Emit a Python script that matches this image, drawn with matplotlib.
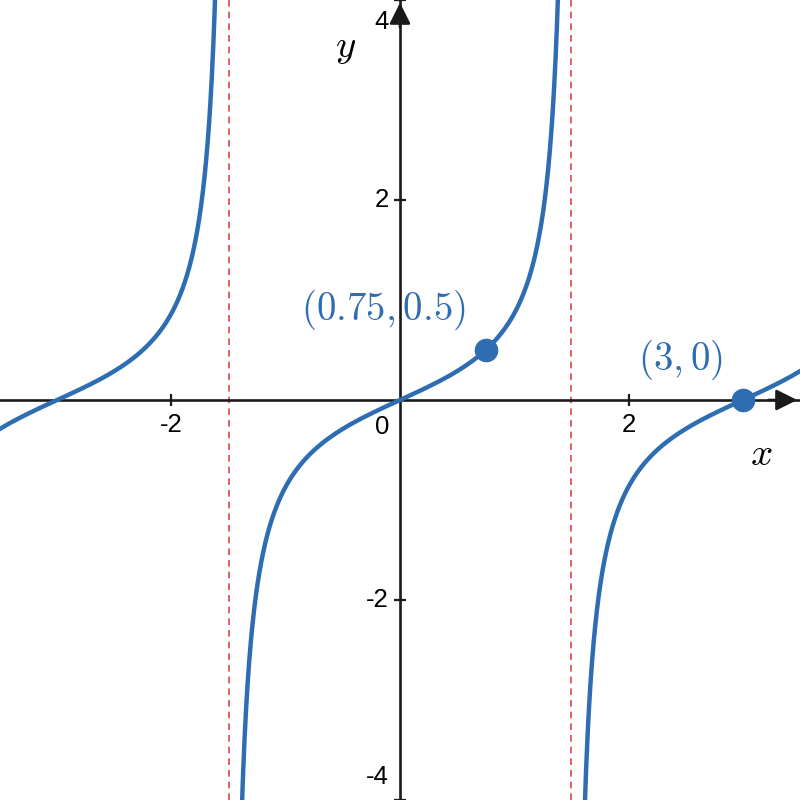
import numpy as np
import matplotlib
matplotlib.use("Agg")
import matplotlib.pyplot as plt

plt.rcParams['font.family'] = ['Liberation Sans', 'DejaVu Sans']
plt.rcParams['mathtext.fontset'] = 'cm'

# --- data ---
amplitude = 0.5          # y = 0.5 * tan(pi * x / 3)
period = 3.0
asymptotes = [-1.5, 1.5]
point_x = [0.75, 3]
point_y = [0.5, 0]
point_labels = [r'$(0.75, 0.5)$', r'$(3, 0)$']
x_ticks = [-2, 2]
y_ticks = [-4, -2, 2, 4]
x_range = (-3.5, 3.5)
y_range = (-4, 4)

blue = '#2f6db3'
red = '#d9484a'
axis_col = '#1a1a1a'

fig = plt.figure(figsize=(8, 8), dpi=100)
ax = fig.add_axes([0, 0, 1, 1])

# courbe, coupée près des asymptotes
x = np.linspace(x_range[0], x_range[1], 4000)
y = amplitude * np.tan(np.pi * x / period)
y[np.abs(y) > 10] = np.nan
ax.plot(x, y, color=blue, lw=3.2, zorder=3, clip_on=True)

for a in asymptotes:
    ax.axvline(a, color=red, lw=1.2, ls=(0, (4, 3)), zorder=1)

ax.plot(point_x, point_y, 'o', color=blue, ms=16, zorder=4)
ax.annotate(point_labels[0], (point_x[0], point_y[0]), xytext=(-74, 13),
            textcoords='offset points', color=blue, fontsize=28, ha='center', va='bottom')
ax.annotate(point_labels[1], (point_x[1], point_y[1]), xytext=(-45, 13),
            textcoords='offset points', color=blue, fontsize=28, ha='center', va='bottom')

ax.set_xlim(*x_range)
ax.set_ylim(*y_range)

# axes au centre
for s in ['top', 'right']:
    ax.spines[s].set_visible(False)
ax.spines['left'].set_position(('data', 0))
ax.spines['bottom'].set_position(('data', 0))
for s in ['left', 'bottom']:
    ax.spines[s].set_color(axis_col)
    ax.spines[s].set_linewidth(1.9)

ax.set_xticks(x_ticks)
ax.set_xticklabels([str(t) for t in x_ticks])
ax.set_yticks(y_ticks)
ax.set_yticklabels([])
ax.tick_params(direction='inout', length=8, width=1.6, color=axis_col,
               labelsize=18.5, pad=5)

# étiquettes de l'axe y (les extrêmes restent dans la figure)
for t in y_ticks:
    if t == y_range[1]:
        off, va = (-8, -7), 'top'
    elif t == y_range[0]:
        off, va = (-8, 8), 'bottom'
    else:
        off, va = (-8, 0), 'center'
    ax.annotate(str(t), (0, t), xytext=off, textcoords='offset points',
                ha='right', va=va, fontsize=18.5)
ax.annotate('0', (0, 0), xytext=(-8, -11), textcoords='offset points',
            ha='right', va='top', fontsize=18.5)

# flèches
ax.annotate('', xy=(x_range[1], 0), xytext=(x_range[1] - 0.3, 0),
            arrowprops=dict(arrowstyle='-|>', color=axis_col, lw=1.9, mutation_scale=32),
            annotation_clip=False)
ax.annotate('', xy=(0, y_range[1]), xytext=(0, y_range[1] - 0.3),
            arrowprops=dict(arrowstyle='-|>', color=axis_col, lw=1.9, mutation_scale=32),
            annotation_clip=False)

ax.text(3.16, -0.55, r'$x$', fontsize=28, ha='center', va='center')
ax.text(-0.48, 3.52, r'$y$', fontsize=28, ha='center', va='center')

fig.savefig('out.png', dpi=100)
